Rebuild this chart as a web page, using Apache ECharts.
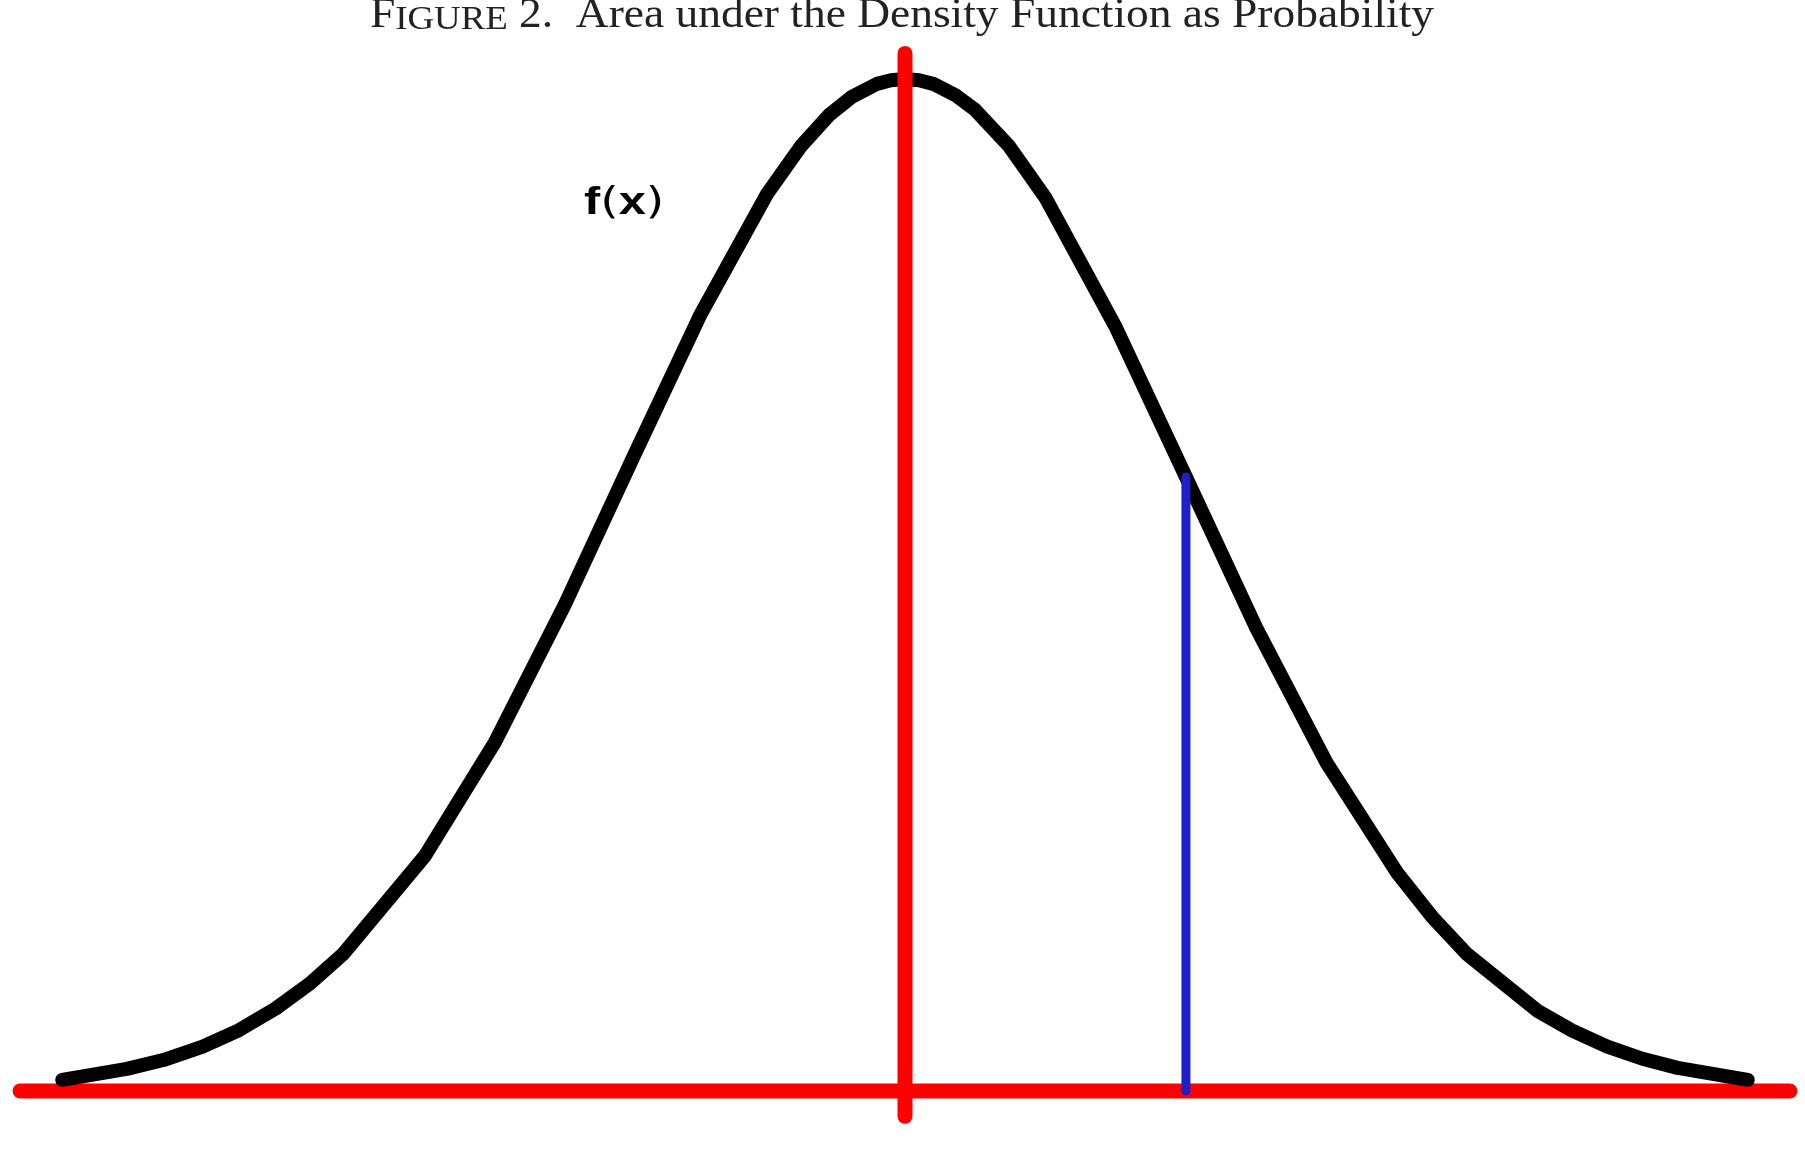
<!DOCTYPE html>
<html>
<head>
<meta charset="utf-8">
<script src="https://cdn.jsdelivr.net/npm/echarts@6/dist/echarts.min.js"></script>
<style>
html,body{margin:0;padding:0;background:#fff;}
#chart{width:1805px;height:1171px;}
</style>
</head>
<body>
<div id="chart"></div>
<script>
// density curve samples (x, f(x))
const curveX = [-3, -2.77, -2.64, -2.5, -2.37, -2.24, -2.12, -2, -1.71, -1.46, -1.21, -0.97, -0.73, -0.49, -0.37, -0.27, -0.19, -0.1, -0.05, 0, 0.05, 0.1, 0.18, 0.25, 0.37, 0.5, 0.75, 1, 1.25, 1.5, 1.75, 1.875, 2, 2.25, 2.375, 2.5, 2.625, 2.75, 3];
const curveY = [0.0044, 0.0087, 0.0122, 0.0175, 0.0240, 0.0325, 0.0422, 0.0540, 0.0925, 0.1374, 0.1919, 0.2492, 0.3056, 0.3538, 0.3725, 0.3847, 0.3918, 0.3970, 0.3984, 0.3989, 0.3984, 0.3970, 0.3925, 0.3867, 0.3725, 0.3521, 0.3011, 0.2420, 0.1826, 0.1295, 0.0863, 0.0688, 0.0540, 0.0317, 0.0238, 0.0175, 0.0127, 0.0091, 0.0044];
// red axes
const axisHX = [-3.15, 3.15];
const axisHY = [0, 0];
const axisVX = [0, 0];
const axisVY = [-0.01, 0.409];
// blue marker at x = 1
const markX = [1, 1];
const markY = [0, 0.242];
const titleText = '{big|F}{small|IGURE}{big| 2.  Area under the Density Function as Probability}';
const curveLabel = '{b|f}{p|(}{b|x}{p|)}';

const zip = (a, b) => a.map((v, i) => [v, b[i]]);

const chart = echarts.init(document.getElementById('chart'));
chart.setOption({
  animation: false,
  backgroundColor: '#ffffff',
  grid: { left: 6, right: 1, top: 25.5, bottom: 29.3, containLabel: false },
  xAxis: {
    type: 'value', min: -3.2, max: 3.2,
    axisLine: { show: false }, axisTick: { show: false }, axisLabel: { show: false }, splitLine: { show: false }
  },
  yAxis: {
    type: 'value', min: -0.02, max: 0.42,
    axisLine: { show: false }, axisTick: { show: false }, axisLabel: { show: false }, splitLine: { show: false }
  },
  graphic: [{
    type: 'text',
    x: 370,
    y: -5,
    scaleX: 1.082,
    style: {
      text: titleText,
      verticalAlign: 'top',
      rich: {
        big: { fontFamily: 'Liberation Serif', fontSize: 42, fill: '#222', verticalAlign: 'bottom' },
        small: { fontFamily: 'Liberation Serif', fontSize: 34, fill: '#222', verticalAlign: 'bottom' }
      },
      fontFamily: 'Liberation Serif',
      fontSize: 42,
      fill: '#222'
    },
    z: 10
  }, {
    type: 'text',
    x: 584,
    y: 185,
    scaleX: 1.28,
    style: {
      text: curveLabel,
      verticalAlign: 'top',
      rich: {
        b: { fontFamily: 'Liberation Sans', fontWeight: 'bold', fontSize: 38, fill: '#000' },
        p: { fontFamily: 'DejaVu Sans', fontWeight: 'normal', fontSize: 37, fill: '#000' }
      }
    },
    z: 10
  }],
  series: [
    {
      type: 'line', data: zip(axisHX, axisHY), symbol: 'none', silent: true, z: 1,
      lineStyle: { color: '#ff0000', width: 15, cap: 'round' }
    },
    {
      type: 'line', data: zip(curveX, curveY), symbol: 'none', silent: true, z: 2,
      lineStyle: { color: '#000000', width: 14, cap: 'round', join: 'round' }
    },
    {
      type: 'line', data: zip(axisVX, axisVY), symbol: 'none', silent: true, z: 3,
      lineStyle: { color: '#ff0000', width: 15, cap: 'round' }
    },
    {
      type: 'line', data: zip(markX, markY), symbol: 'none', silent: true, z: 4,
      lineStyle: { color: '#1f1fc8', width: 9, cap: 'round' }
    }
  ]
});
</script>
</body>
</html>
